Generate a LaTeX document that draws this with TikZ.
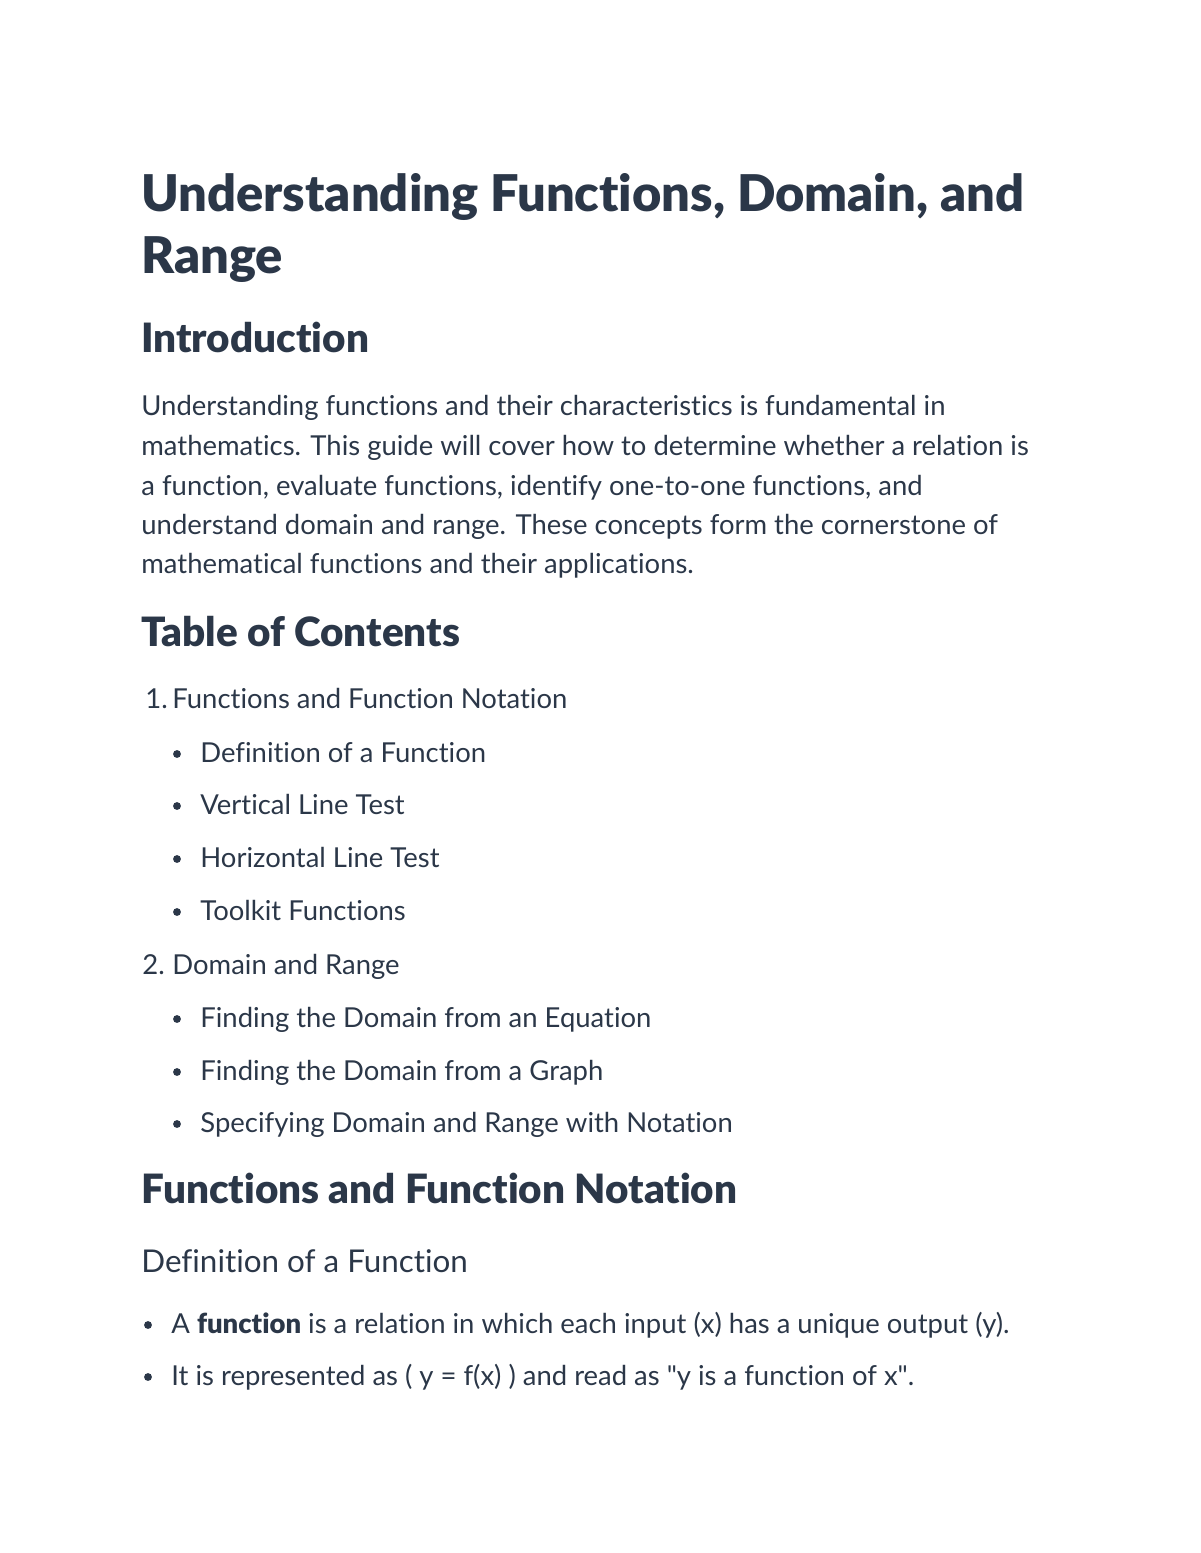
\documentclass[tikz,border=0pt]{standalone}
\usepackage{fontspec}
\setmainfont{Lato}[RawFeature=-liga,BoldFont={Lato Black}]
\definecolor{ink}{HTML}{2B3748}
\tikzset{
 t/.style={anchor=base west,inner sep=0pt,text=ink,font=\fontsize{25.8}{28}\selectfont\bfseries},
 h/.style={anchor=base west,inner sep=0pt,text=ink,font=\fontsize{20.6}{22}\selectfont\bfseries},
 sh/.style={anchor=base west,inner sep=0pt,text=ink,font=\fontsize{16}{18}\selectfont},
 b/.style={anchor=base west,inner sep=0pt,text=ink,font=\fontsize{14}{16}\selectfont},
 dot/.style={circle,fill=ink,inner sep=0pt,minimum size=4pt}
}
\begin{document}
\begin{tikzpicture}[x=0.51pt,y=-0.51pt]
\useasboundingbox (0,0) rectangle (1200,1553);
\node[t] (t1) at (141,212) {Understanding Functions, Domain, and};
\node[t] (t2) at (141,273) {Range};
\node[h] (intro) at (141,352) {Introduction};
\node[b] (p1) at (141,415) {Understanding functions and their characteristics is fundamental in};
\node[b] (p2) at (141,455) {mathematics. This guide will cover how to determine whether a relation is};
\node[b] (p3) at (141,495) {a function, evaluate functions, identify one-to-one functions, and};
\node[b] (p4) at (141,534) {understand domain and range. These concepts form the cornerstone of};
\node[b] (p5) at (141,573) {mathematical functions and their applications.};
\node[h] (toc) at (141,646) {Table of Contents};
\node[b] (n1a) at (145,708) {1.};
\node[b] (n1) at (172,708) {Functions and Function Notation};
\foreach \y/\s [count=\i] in {762/Definition of a Function,814/Vertical Line Test,867/Horizontal Line Test,920/Toolkit Functions}{
 \node[dot] (da\i) at (177,\y-8) {};
 \node[b] (ba\i) at (200,\y) {\s};
}
\node[b] (n2a) at (142,974) {2.};
\node[b] (n2) at (172,974) {Domain and Range};
\foreach \y/\s [count=\i] in {1027/Finding the Domain from an Equation,1080/Finding the Domain from a Graph,1132/Specifying Domain and Range with Notation}{
 \node[dot] (db\i) at (177,\y-8) {};
 \node[b] (bb\i) at (200,\y) {\s};
}
\node[h] (sec) at (141,1203) {Functions and Function Notation};
\node[sh] (sub) at (141,1272) {Definition of a Function};
\node[dot] (dc1) at (148,1325) {};
\node[b] (bc1) at (171,1333) {A \textbf{function} is a relation in which each input (x) has a unique output (y).};
\node[dot] (dc2) at (148,1377) {};
\node[b] (bc2) at (171,1385) {It is represented as ( y = f(x) ) and read as \textquotedbl y is a function of x\textquotedbl.};
\end{tikzpicture}
\end{document}
